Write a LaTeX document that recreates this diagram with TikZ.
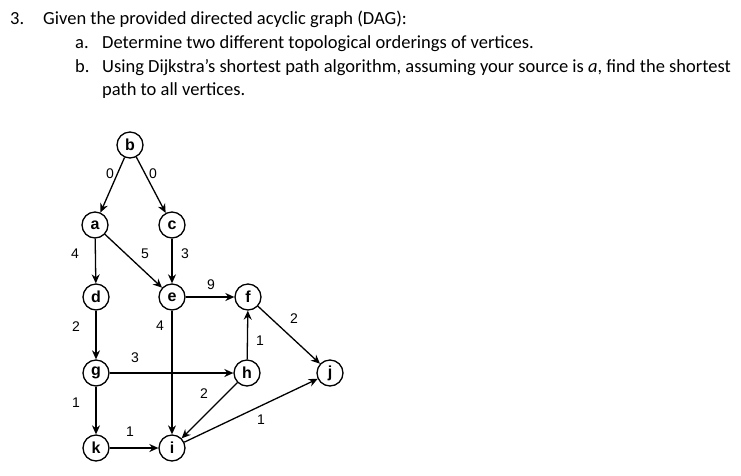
\documentclass[tikz,border=0pt]{standalone}
\usepackage{fontspec}
\setmainfont{Carlito}
\newfontfamily\arial{Liberation Sans}
\usetikzlibrary{arrows.meta}
\begin{document}
\begin{tikzpicture}[x=1pt,y=-1pt,
  vtx/.style={circle,draw,line width=1.3pt,minimum size=26pt,inner sep=0pt,font=\arial\bfseries\fontsize{16}{16}\selectfont},
  edge/.style={-{Stealth[length=9pt,width=8pt]},line width=1.3pt},
  wt/.style={font=\arial\fontsize{14}{14}\selectfont,inner sep=1pt},
  txt/.style={anchor=base west,inner sep=0pt,font=\fontsize{18.5}{22}\selectfont}]
\useasboundingbox (0,0) rectangle (741,475);
\node[txt] (t1) at (10,24) {3.};
\node[txt] (t2) at (43,24) {Given the provided directed acyclic graph (DAG):};
\node[txt] (t3) at (75,48) {a.};
\node[txt] (t4) at (102,48) {Determine two different topological orderings of vertices.};
\node[txt] (t5) at (75,72) {b.};
\node[txt] (t6) at (102,72) {Using Dijkstra’s shortest path algorithm, assuming your source is \textit{a}, find the shortest};
\node[txt] (t7) at (102,95) {path to all vertices.};
\node[vtx] (b) at (130,145) {b};
\node[vtx] (a) at (95,225) {a};
\node[vtx] (c) at (172,225) {c};
\node[vtx] (d) at (96,297) {d};
\node[vtx] (e) at (172,297) {e};
\node[vtx] (f) at (248,297) {f};
\node[vtx] (g) at (96,373) {g};
\node[vtx] (h) at (247,373) {h};
\node[vtx] (j) at (330,373) {j};
\node[vtx] (k) at (96,448) {k};
\node[vtx] (i) at (172,448) {i};
\draw[edge] (b) -- (a);
\draw[edge] (b) -- (c);
\draw[edge] (a) -- (d);
\draw[edge] (a) -- (e);
\draw[edge] (c) -- (e);
\draw[edge] (e) -- (f);
\draw[edge] (e) -- (i);
\draw[edge] (d) -- (g);
\draw[edge] (g) -- (h);
\draw[edge] (g) -- (k);
\draw[edge] (h) -- (f);
\draw[edge] (h) -- (i);
\draw[edge] (f) -- (j);
\draw[edge] (k) -- (i);
\draw[edge] (i) -- (j);
\node[wt] (w1) at (110,174) {0};
\node[wt] (w2) at (153,174) {0};
\node[wt] (w3) at (75,254) {4};
\node[wt] (w4) at (145,254) {5};
\node[wt] (w5) at (185,254) {3};
\node[wt] (w6) at (211,285) {9};
\node[wt] (w7) at (160,326) {4};
\node[wt] (w8) at (76,327) {2};
\node[wt] (w9) at (135,358) {3};
\node[wt] (w10) at (260,341) {1};
\node[wt] (w11) at (294,319) {2};
\node[wt] (w12) at (204,394) {2};
\node[wt] (w13) at (76,403) {1};
\node[wt] (w14) at (130,432) {1};
\node[wt] (w15) at (261,420) {1};
\end{tikzpicture}
\end{document}
